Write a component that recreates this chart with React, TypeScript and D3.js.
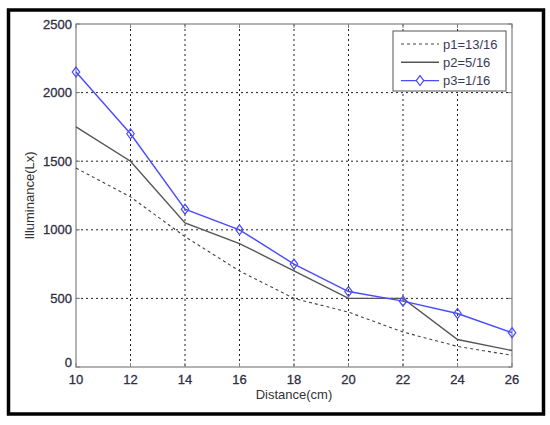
import React from 'react'
import * as d3 from 'd3'

const distances = [10, 12, 14, 16, 18, 20, 22, 24, 26]
const p1Values = [1450, 1240, 950, 700, 500, 400, 255, 150, 85]
const p2Values = [1750, 1500, 1050, 900, 700, 500, 500, 200, 120]
const p3Values = [2150, 1700, 1150, 1000, 750, 550, 480, 390, 250]
const xTicks = [10, 12, 14, 16, 18, 20, 22, 24, 26]
const yTicks = [0, 500, 1000, 1500, 2000, 2500]
const seriesNames = ['p1=13/16', 'p2=5/16', 'p3=1/16']

const W = 550
const H = 425
const plot = { left: 76, right: 512, top: 24, bottom: 367 }
const font = '"Liberation Sans", Arial, sans-serif'
const tickColor = '#2e2e44'

const App: React.FC = () => {
  const x = d3.scaleLinear().domain([10, 26]).range([plot.left, plot.right])
  const y = d3.scaleLinear().domain([0, 2500]).range([plot.bottom, plot.top])

  const line = d3
    .line<number>()
    .x((_d, i) => x(distances[i]))
    .y(d => y(d))

  const series = [
    { name: seriesNames[0], values: p1Values, stroke: '#444', dash: '3,3', width: 1.1, marker: false },
    { name: seriesNames[1], values: p2Values, stroke: '#555', dash: undefined, width: 1.4, marker: false },
    { name: seriesNames[2], values: p3Values, stroke: '#4a4aff', dash: undefined, width: 1.4, marker: true },
  ]

  const diamond = (cx: number, cy: number, r = 5) =>
    `M${cx},${cy - r}L${cx + r * 0.75},${cy}L${cx},${cy + r}L${cx - r * 0.75},${cy}Z`

  // legend box geometry
  const lg = { x: 393, y: 31, w: 113, h: 60 }

  return (
    <svg width={W} height={H} style={{ position: 'absolute', left: 0, top: 0, background: '#fff' }}>
      <rect x={0} y={0} width={W} height={H} fill="#fff" />
      {/* outer frame */}
      <rect x={8.5} y={10} width={535} height={404} fill="none" stroke="#000" strokeWidth={3.5} />

      {/* grid */}
      <g stroke="#222" strokeWidth={1} strokeDasharray="2,3">
        {xTicks.slice(1, -1).map(t => (
          <line key={'gx' + t} x1={x(t)} x2={x(t)} y1={plot.top} y2={plot.bottom} />
        ))}
        {yTicks.slice(1, -1).map(t => (
          <line key={'gy' + t} x1={plot.left} x2={plot.right} y1={y(t)} y2={y(t)} />
        ))}
      </g>

      {/* axes box */}
      <rect
        x={plot.left}
        y={plot.top}
        width={plot.right - plot.left}
        height={plot.bottom - plot.top}
        fill="none"
        stroke="#808080"
        strokeWidth={1.2}
      />
      {/* inner tick marks */}
      <g stroke="#808080" strokeWidth={1}>
        {xTicks.map(t => (
          <g key={'tx' + t}>
            <line x1={x(t)} x2={x(t)} y1={plot.bottom} y2={plot.bottom - 4} />
            <line x1={x(t)} x2={x(t)} y1={plot.top} y2={plot.top + 4} />
          </g>
        ))}
        {yTicks.map(t => (
          <g key={'ty' + t}>
            <line x1={plot.left} x2={plot.left + 4} y1={y(t)} y2={y(t)} />
            <line x1={plot.right} x2={plot.right - 4} y1={y(t)} y2={y(t)} />
          </g>
        ))}
      </g>

      {/* series */}
      {series.map(s => (
        <path
          key={s.name}
          d={line(s.values) || ''}
          fill="none"
          stroke={s.stroke}
          strokeWidth={s.width}
          strokeDasharray={s.dash}
        />
      ))}
      {p3Values.map((v, i) => (
        <path
          key={'m' + i}
          d={diamond(x(distances[i]), y(v))}
          fill="none"
          stroke="#4a4aff"
          strokeWidth={1.2}
        />
      ))}

      {/* tick labels */}
      <g fontFamily={font} fontSize={13} fill={tickColor} stroke={tickColor} strokeWidth={0.3}>
        {xTicks.map(t => (
          <text key={'lx' + t} x={x(t)} y={plot.bottom + 17} textAnchor="middle">
            {t}
          </text>
        ))}
        {yTicks.map(t => (
          <text
            key={'ly' + t}
            x={plot.left - 4}
            y={t === 0 ? y(t) : y(t) + 4.5}
            textAnchor="end"
          >
            {t}
          </text>
        ))}
      </g>

      {/* axis titles */}
      <text
        x={(plot.left + plot.right) / 2}
        y={399}
        textAnchor="middle"
        fontFamily={font}
        fontSize={13}
        fill="#333"
      >
        Distance(cm)
      </text>
      <text
        transform={`translate(34, ${(plot.top + plot.bottom) / 2}) rotate(-90)`}
        textAnchor="middle"
        fontFamily={font}
        fontSize={13}
        fill="#333"
      >
        Illuminance(Lx)
      </text>

      {/* legend */}
      <rect x={lg.x} y={lg.y} width={lg.w} height={lg.h} fill="#fff" stroke="#555" strokeWidth={1} />
      {series.map((s, i) => {
        const ly = lg.y + 13 + i * 18.3
        return (
          <g key={'lg' + s.name}>
            <line
              x1={lg.x + 8}
              x2={lg.x + 46}
              y1={ly}
              y2={ly}
              stroke={s.stroke}
              strokeWidth={s.width}
              strokeDasharray={s.dash}
            />
            {s.marker && (
              <path d={diamond(lg.x + 27, ly, 5)} fill="#fff" stroke="#4a4aff" strokeWidth={1.2} />
            )}
            <text x={lg.x + 50} y={ly + 4.5} fontFamily={font} fontSize={13} fill="#3a3a5a">
              {s.name}
            </text>
          </g>
        )
      })}
    </svg>
  )
}

export default App
